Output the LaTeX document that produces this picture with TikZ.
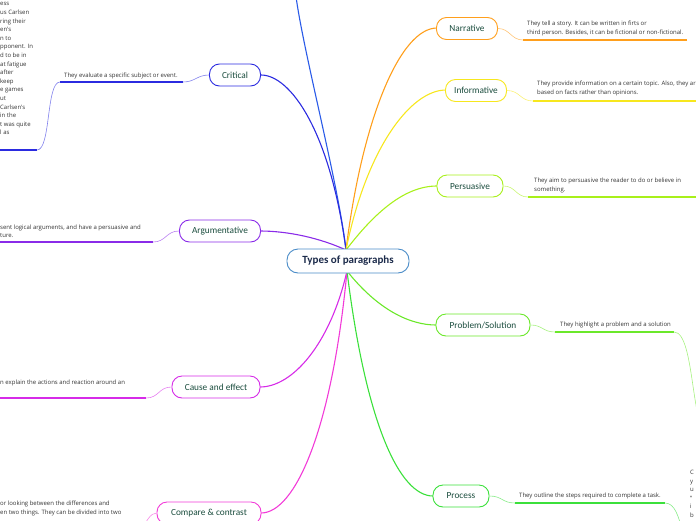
\documentclass[tikz,border=0pt]{standalone}
\usepackage{fontspec}
\setmainfont{Carlito}
\newfontfamily\notefont{Open Sans}
\usepackage{xcolor}
\usetikzlibrary{positioning,calc}
\definecolor{RootBorder}{HTML}{4A8CC8}
\definecolor{RootText}{HTML}{1C2B4B}
\definecolor{TopicText}{HTML}{1B4D3E}
\definecolor{NoteText}{HTML}{333333}
\definecolor{TopColor}{HTML}{2A5BE8}
\definecolor{CriticalColor}{HTML}{2B2BE0}
\definecolor{ArgumentColor}{HTML}{8A2BE8}
\definecolor{CauseColor}{HTML}{D62BE8}
\definecolor{CompareColor}{HTML}{F23BD8}
\definecolor{NarrativeColor}{HTML}{FF9F1C}
\definecolor{InformativeColor}{HTML}{F7E71E}
\definecolor{PersuasiveColor}{HTML}{A8F01A}
\definecolor{ProblemColor}{HTML}{6BE82A}
\definecolor{ProcessColor}{HTML}{3BE03B}
\tikzstyle{RootNode} =[draw=RootBorder,fill=white,rounded corners=11pt,line width=0.9pt,minimum width=122pt,minimum height=24pt,font=\fontsize{11}{13}\selectfont\bfseries,text=RootText]
\tikzstyle{TopicNode} =[fill=white,rounded corners=10pt,line width=0.9pt,minimum height=22pt,font=\fontsize{9.3}{11}\selectfont,text=TopicText]
\tikzstyle{NoteNode} =[anchor=south west,align=left,inner sep=0pt,font=\notefont\fontsize{6}{8.6}\selectfont,text=NoteText]
\tikzstyle{NoteLine} =[line width=1.6pt]
\tikzstyle{Branch} =[line width=1.1pt]
\tikzstyle{Twig} =[line width=0.6pt]

\begin{document}
\begin{tikzpicture}[x=1pt,y=-1pt]
    \useasboundingbox (0,0) rectangle (696,520);
    \clip (0,0) rectangle (696,520);

    \coordinate (Hub-Up) at (346,250);
    \coordinate (Hub-Down) at (347,271);
    \coordinate (Offscreen-Top) at (295,-12);

    % branches from the root
    \draw[Branch,TopColor] (Hub-Up) .. controls (338,180) and (300,40) .. (Offscreen-Top);
    \draw[Branch,CriticalColor] (Hub-Up) .. controls (330,130) and (290,75) .. (261,75);
    \draw[Branch,ArgumentColor] (Hub-Up) .. controls (320,238) and (288,231) .. (260,231);
    \draw[Branch,CauseColor] (Hub-Down) .. controls (330,345) and (292,387) .. (260,387);
    \draw[Branch,CompareColor] (Hub-Down) .. controls (332,430) and (295,513) .. (261,513);
    \draw[Branch,NarrativeColor] (Hub-Up) .. controls (362,120) and (400,28) .. (437,28);
    \draw[Branch,InformativeColor] (Hub-Up) .. controls (366,150) and (410,90) .. (446,90);
    \draw[Branch,PersuasiveColor] (Hub-Up) .. controls (375,212) and (405,186) .. (437,186);
    \draw[Branch,ProblemColor] (Hub-Down) .. controls (378,310) and (410,325) .. (436,325);
    \draw[Branch,ProcessColor] (Hub-Down) .. controls (366,425) and (400,496) .. (433,496);

    \node[RootNode](Types-Of-Paragraphs) at (348,261){Types of paragraphs};

    \node[TopicNode,draw=CriticalColor,minimum width=51pt](Critical) at (235,75){Critical};
    \node[TopicNode,draw=ArgumentColor,minimum width=81pt](Argumentative) at (220,231){Argumentative};
    \node[TopicNode,draw=CauseColor,minimum width=88pt](Cause-And-Effect) at (216,387){Cause and effect};
    \node[TopicNode,draw=CompareColor,minimum width=104pt](Compare-And-Contrast) at (209,513){Compare \& contrast};
    \node[TopicNode,draw=NarrativeColor,minimum width=61pt](Narrative) at (467,28.5){Narrative};
    \node[TopicNode,draw=InformativeColor,minimum width=61pt](Informative) at (476,90.5){Informative};
    \node[TopicNode,draw=PersuasiveColor,minimum width=66pt](Persuasive) at (470,186){Persuasive};
    \node[TopicNode,draw=ProblemColor,minimum width=94pt](Problem-Solution) at (483,325){Problem/Solution};
    \node[TopicNode,draw=ProcessColor,minimum width=56pt](Process) at (461,496){Process};

    % underlines of the notes
    \coordinate (Critical-Line-Start) at (60,82);
    \coordinate (Critical-Line-End) at (183,82);
    \coordinate (Example-Line-Start) at (-5,150);
    \coordinate (Example-Line-End) at (37,150);
    \coordinate (Argumentative-Line-Start) at (-5,242);
    \coordinate (Argumentative-Line-End) at (153,242);
    \coordinate (Cause-Line-Start) at (-5,398);
    \coordinate (Cause-Line-End) at (146,398);
    \coordinate (Compare-Line-End) at (128,545);
    \coordinate (Narrative-Line-Start) at (523,40);
    \coordinate (Narrative-Line-End) at (687,40);
    \coordinate (Informative-Line-Start) at (533,101);
    \coordinate (Informative-Line-End) at (700,101);
    \coordinate (Persuasive-Line-Start) at (528,197);
    \coordinate (Persuasive-Line-End) at (700,197);
    \coordinate (Problem-Line-Start) at (555,332);
    \coordinate (Problem-Line-End) at (674,332);
    \coordinate (Problem-Child) at (712,440);
    \coordinate (Process-Line-Start) at (515,503);
    \coordinate (Process-Line-End) at (665,503);
    \coordinate (Process-Child) at (700,560);

    \draw[NoteLine,CriticalColor] (Critical-Line-Start) -- (Critical-Line-End);
    \draw[NoteLine,CriticalColor] (Example-Line-Start) -- (Example-Line-End);
    \draw[NoteLine,ArgumentColor] (Argumentative-Line-Start) -- (Argumentative-Line-End);
    \draw[NoteLine,CauseColor] (Cause-Line-Start) -- (Cause-Line-End);
    \draw[NoteLine,NarrativeColor] (Narrative-Line-Start) -- (Narrative-Line-End);
    \draw[NoteLine,InformativeColor] (Informative-Line-Start) -- (Informative-Line-End);
    \draw[NoteLine,PersuasiveColor] (Persuasive-Line-Start) -- (Persuasive-Line-End);
    \draw[NoteLine,ProblemColor] (Problem-Line-Start) -- (Problem-Line-End);
    \draw[NoteLine,ProcessColor] (Process-Line-Start) -- (Process-Line-End);

    % twigs from topics to notes
    \draw[Twig,CriticalColor!60] (Critical.west) .. controls +(-12,0) and +(12,0) .. (Critical-Line-End);
    \draw[Twig,CriticalColor!60] (Critical-Line-Start) .. controls +(-14,0) and +(14,0) .. (Example-Line-End);
    \draw[Twig,ArgumentColor!60] (Argumentative.west) .. controls +(-13,0) and +(13,0) .. (Argumentative-Line-End);
    \draw[Twig,CauseColor!60] (Cause-And-Effect.west) .. controls +(-13,0) and +(13,0) .. (Cause-Line-End);
    \draw[Twig,CompareColor!60] (Compare-And-Contrast.west) .. controls +(-12,0) and +(12,0) .. (Compare-Line-End);
    \draw[Twig,NarrativeColor!60] (Narrative.east) .. controls +(12,0) and +(-12,0) .. (Narrative-Line-Start);
    \draw[Twig,InformativeColor!60] (Informative.east) .. controls +(13,0) and +(-13,0) .. (Informative-Line-Start);
    \draw[Twig,PersuasiveColor!60] (Persuasive.east) .. controls +(12,0) and +(-12,0) .. (Persuasive-Line-Start);
    \draw[Twig,ProblemColor!60] (Problem-Solution.east) .. controls +(12,0) and +(-12,0) .. (Problem-Line-Start);
    \draw[Twig,ProblemColor!60] (Problem-Line-End) .. controls +(22,0) and +(-22,0) .. (Problem-Child);
    \draw[Twig,ProcessColor!60] (Process.east) .. controls +(13,0) and +(-13,0) .. (Process-Line-Start);
    \draw[Twig,ProcessColor!60] (Process-Line-End) .. controls +(20,0) and +(-20,0) .. (Process-Child);

    % notes
    \node[NoteNode](Critical-Note) at (64,79){They evaluate a specific subject or event.};
    \node[NoteNode,anchor=north west](Example-Note) at (0,2.5){ess\\us Carlsen\\ring their\\en's\\n to\\pponent. In\\d to be in\\at fatigue\\after\\keep\\e games\\ut\\Carlsen's\\in the\\t was quite\\l as};
    \node[NoteNode](Argumentative-Note) at (0,238){sent logical arguments, and have a persuasive and\\ture.};
    \node[NoteNode](Cause-Note) at (0,386){n explain the actions and reaction around an};
    \node[NoteNode](Compare-Note) at (0,516){or looking between the differences and\\en two things. They can be divided into two};
    \node[NoteNode](Narrative-Note) at (527,36){They tell a story. It can be written in firts or\\third person. Besides, it can be fictional or non-fictional.};
    \node[NoteNode](Informative-Note) at (537,96){They provide information on a certain topic. Also, they ar\\based on facts rather than opinions.};
    \node[NoteNode](Persuasive-Note) at (534,193){They aim to persuasive the reader to do or believe in\\something.};
    \node[NoteNode](Problem-Note) at (560,328){They highlight a problem and a solution};
    \node[NoteNode](Process-Note) at (519,499){They outline the steps required to complete a task.};
    \node[NoteNode,anchor=north west](Process-Child-Note) at (690,470){C\\y\\u\\“\\i\\b};
\end{tikzpicture}
\end{document}
